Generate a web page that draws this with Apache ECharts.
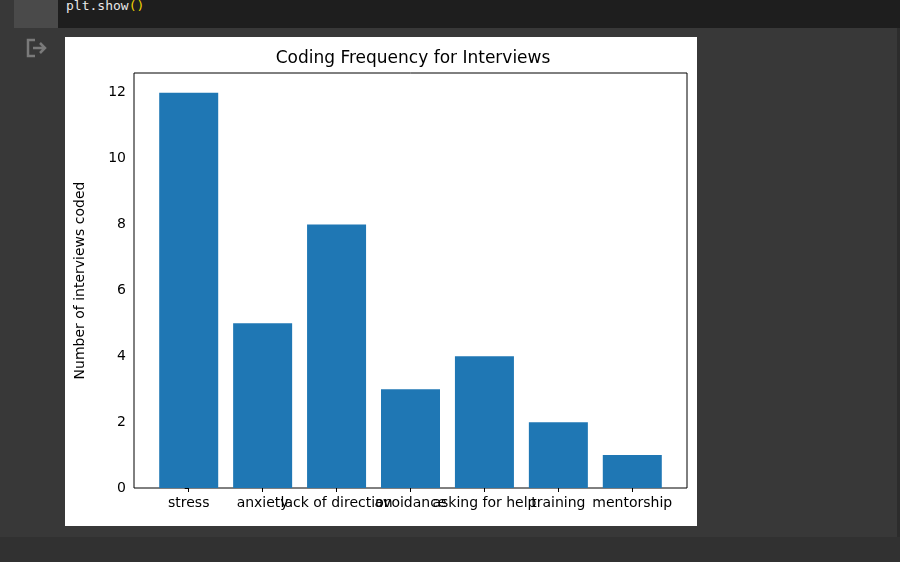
<!DOCTYPE html>
<html><head><meta charset="utf-8">
<script src="https://cdn.jsdelivr.net/npm/echarts@6/dist/echarts.min.js"></script>
<style>
body{margin:0;width:900px;height:562px;background:#383838;position:relative;overflow:hidden;font-family:"DejaVu Sans"}
#top{position:absolute;left:58px;top:0;width:842px;height:28px;background:#1e1e1e}
#gut{position:absolute;left:14px;top:0;width:44px;height:28px;background:#4a4a4a}
#code{position:absolute;left:66px;top:-2px;font:13px "DejaVu Sans Mono";color:#e8e8e8}
#bot{position:absolute;left:0;top:537px;width:900px;height:25px;background:#313131}
#edge{position:absolute;left:897px;top:28px;width:3px;height:509px;background:#2c2c2c}
#main{position:absolute;left:65px;top:37px;width:632px;height:489px;background:#fff}
</style></head><body>
<div id="top"></div><div id="gut"></div>
<div id="code">plt.show<span style="color:#f0d000">()</span></div>
<div id="bot"></div><div id="edge"></div>
<svg style="position:absolute;left:26px;top:38px" width="22" height="20" viewBox="0 0 22 20">
<path d="M9 2H2v16h7" fill="none" stroke="#7a7a7a" stroke-width="2.5"/>
<path d="M7 10h12M14 5l5 5-5 5" fill="none" stroke="#7a7a7a" stroke-width="2.5"/></svg>
<div id="main"></div>
<script>
var categories=['stress','anxiety','lack of direction','avoidance','asking for help','training','mentorship'];
var counts=[12,5,8,3,4,2,1];
var yTicks=[0,2,4,6,8,10,12];

var chart=echarts.init(document.getElementById('main'));
var idx=categories.map(function(c,i){return i;});
chart.setOption({
  animation:false,
  textStyle:{fontFamily:'DejaVu Sans'},
  title:{text:'Coding Frequency for Interviews',left:343,top:8,textAlign:'center',
    textStyle:{fontSize:17,fontWeight:'normal',color:'#000'}},
  grid:{left:64,top:36,width:558,height:415,show:true,borderColor:'#000',borderWidth:1,backgroundColor:'transparent'},
  xAxis:{type:'value',min:-0.74,max:6.74,splitLine:{show:false},
    axisLine:{show:false},
    axisTick:{show:true,length:4,inside:false,customValues:idx,lineStyle:{color:'#000'}},
    axisLabel:{customValues:idx,color:'#000',fontSize:14,margin:8,
      formatter:function(v){return categories[Math.round(v)];}}},
  yAxis:{type:'value',min:0,max:12.6,name:'Number of interviews coded',nameLocation:'middle',nameGap:47,
    nameTextStyle:{fontSize:14,color:'#000'},splitLine:{show:false},
    axisLine:{show:false},
    axisTick:{show:true,length:4,customValues:yTicks,lineStyle:{color:'#000'}},
    axisLabel:{customValues:yTicks,color:'#000',fontSize:14,margin:8}},
  series:[{type:'bar',barWidth:59,itemStyle:{color:'#1f77b4'},
    data:counts.map(function(v,i){return [i,v];})}]
});
</script></body></html>
